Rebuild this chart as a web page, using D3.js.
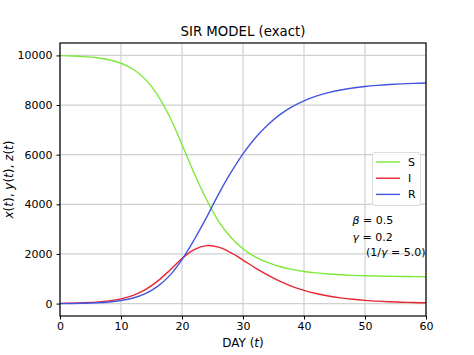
<!DOCTYPE html>
<html>
<head>
<meta charset="utf-8">
<script src="https://cdn.jsdelivr.net/npm/d3@7"></script>
<style>
  html, body { margin: 0; padding: 0; background: #fff; }
  svg { display: block; font-family: "DejaVu Sans", sans-serif; }
</style>
</head>
<body>
<svg id="chart" width="474" height="355"></svg>
<script>
// ---- data ----
const days = [0,2,4,6,8,10,12,14,16,18,20,22,24,26,28,30,32,34,36,38,40,42,44,46,48,50,52,54,56,58,60];
const S = [9990,9976,9951,9907,9826,9685,9441,9034,8403,7520,6410,5251,4203,3317,2673,2210,1883,1657,1494,1377,1295,1236,1193,1162,1138,1121,1109,1099,1092,1087,1083];
const I = [10,18,33,60,108,191,333,563,905,1344,1815,2176,2334,2273,2054,1755,1443,1156,904,697,534,406,308,232,174,131,98,74,55,41,31];
const R = [0,5,16,34,66,124,226,402,692,1136,1775,2573,3463,4410,5273,6035,6674,7187,7602,7926,8171,8358,8499,8607,8688,8748,8793,8827,8853,8872,8886];
const xTicks = [0,10,20,30,40,50,60];
const yTicks = [0,2000,4000,6000,8000,10000];
const seriesNames = ["S","I","R"];
const seriesColors = ["#7ee83a","#e8262e","#4456e0"];

const svg = d3.select("#chart");
const m = {left: 60, right: 426, top: 43, bottom: 316};

const x = d3.scaleLinear().domain([0,60]).range([m.left, m.right]);
const y = d3.scaleLinear().domain([-500,10500]).range([m.bottom, m.top]);

// grid
const grid = svg.append("g");
grid.selectAll(".gx").data(xTicks).join("line")
  .attr("x1", d => x(d)).attr("x2", d => x(d))
  .attr("y1", m.top).attr("y2", m.bottom)
  .attr("stroke", "#d0d0d0").attr("stroke-width", 1.2);
grid.selectAll(".gy").data(yTicks).join("line")
  .attr("x1", m.left).attr("x2", m.right)
  .attr("y1", d => y(d)).attr("y2", d => y(d))
  .attr("stroke", "#d0d0d0").attr("stroke-width", 1.2);

// lines
const seriesData = [S, I, R];
const line = d3.line()
  .x((d,i) => x(days[i]))
  .y(d => y(d))
  .curve(d3.curveCatmullRom.alpha(0.5));
seriesData.forEach((vals, k) => {
  svg.append("path")
    .datum(vals)
    .attr("fill", "none")
    .attr("stroke", seriesColors[k])
    .attr("stroke-width", 1.4)
    .attr("d", line);
});

// axes
const xAxis = svg.append("g").attr("transform", `translate(0,${m.bottom})`)
  .call(d3.axisBottom(x).tickValues(xTicks).tickSize(3.5).tickPadding(3).tickFormat(d3.format("d")));
const yAxis = svg.append("g").attr("transform", `translate(${m.left},0)`)
  .call(d3.axisLeft(y).tickValues(yTicks).tickSize(3.5).tickPadding(4).tickFormat(d3.format("d")));
[xAxis, yAxis].forEach(a => {
  a.select(".domain").remove();
  a.selectAll("line").attr("stroke", "#000").attr("stroke-width", 1);
  a.selectAll("text").attr("font-family", "DejaVu Sans").attr("font-size", 11).attr("fill", "#000");
});

// frame
svg.append("rect")
  .attr("x", m.left).attr("y", m.top)
  .attr("width", m.right - m.left).attr("height", m.bottom - m.top)
  .attr("fill", "none").attr("stroke", "#000").attr("stroke-width", 1.2);

// title
svg.append("text")
  .attr("x", (m.left + m.right) / 2).attr("y", 36)
  .attr("text-anchor", "middle").attr("font-size", 13.3)
  .text("SIR MODEL (exact)");

// x label
const xl = svg.append("text")
  .attr("x", (m.left + m.right) / 2).attr("y", 347)
  .attr("text-anchor", "middle").attr("font-size", 12);
xl.append("tspan").text("DAY (");
xl.append("tspan").attr("font-style", "italic").text("t");
xl.append("tspan").text(")");

// y label
const yl = svg.append("text")
  .attr("transform", `translate(12.5,${(m.top + m.bottom) / 2}) rotate(-90)`)
  .attr("text-anchor", "middle").attr("font-size", 12);
const yParts = [["x",1],["(",0],["t",1],["), ",0],["y",1],["(",0],["t",1],["), ",0],["z",1],["(",0],["t",1],[")",0]];
yParts.forEach(p => {
  yl.append("tspan").attr("font-style", p[1] ? "italic" : "normal").text(p[0]);
});

// legend
const lg = svg.append("g");
lg.append("rect")
  .attr("x", 372.5).attr("y", 152.5).attr("width", 48).attr("height", 53)
  .attr("rx", 2.5).attr("fill", "#fff").attr("fill-opacity", 0.85)
  .attr("stroke", "#dcdcdc").attr("stroke-width", 1);
seriesNames.forEach((n, k) => {
  const yy = 162 + k * 16.2;
  lg.append("line").attr("x1", 376).attr("x2", 400).attr("y1", yy).attr("y2", yy)
    .attr("stroke", seriesColors[k]).attr("stroke-width", 1.4);
  lg.append("text").attr("x", 408).attr("y", yy + 4).attr("font-size", 11).text(n);
});

// annotations
const ann = [
  {x: 352.5, y: 224, parts: [["β",1],[" = 0.5",0]]},
  {x: 352.5, y: 241, parts: [["γ",1],[" = 0.2",0]]},
  {x: 366, y: 256, parts: [["(1/",0],["γ",1],[" = 5.0)",0]]}
];
ann.forEach(a => {
  const t = svg.append("text").attr("x", a.x).attr("y", a.y).attr("font-size", 11);
  a.parts.forEach(p => t.append("tspan").attr("font-style", p[1] ? "italic" : "normal").text(p[0]));
});
</script>
</body>
</html>
